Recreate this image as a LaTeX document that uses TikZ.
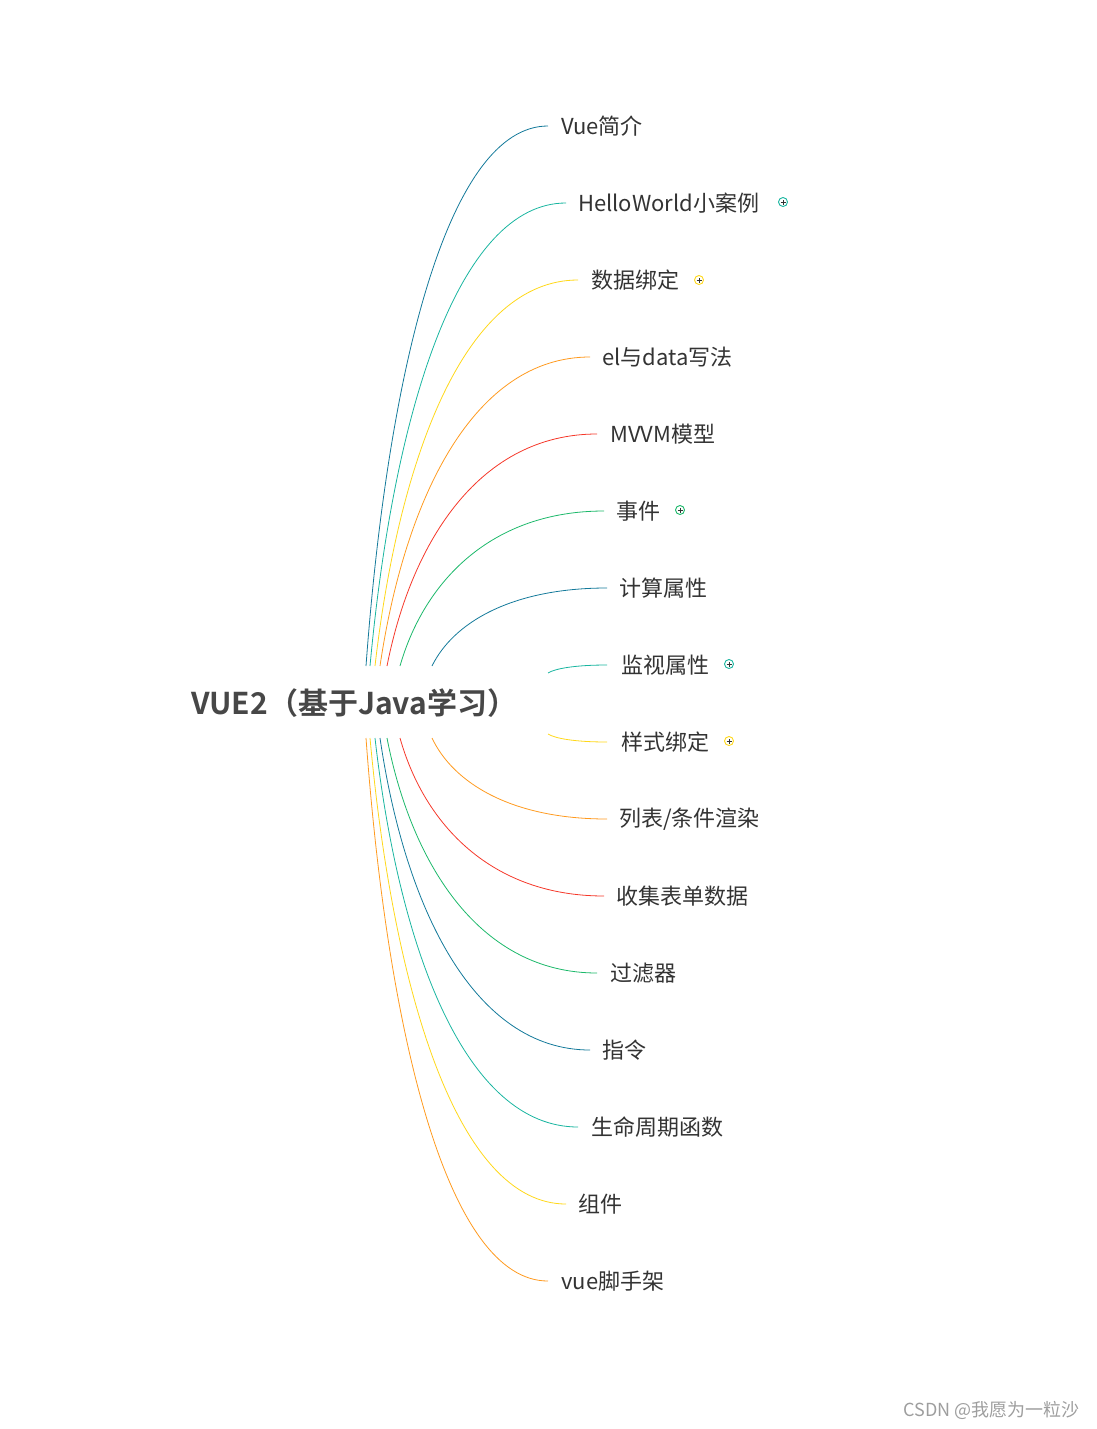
\documentclass[tikz,border=0pt]{standalone}
\usepackage{fontspec}
\setmainfont{Noto Sans CJK SC}
\newfontfamily\cjkb[BoldFont={Noto Sans CJK SC Bold}]{Noto Sans CJK SC}
\definecolor{cA}{HTML}{13799A}
\definecolor{cB}{HTML}{19B5A0}
\definecolor{cC}{HTML}{FFD81A}
\definecolor{cD}{HTML}{FF9A1F}
\definecolor{cE}{HTML}{F5382A}
\definecolor{cF}{HTML}{1CB86A}
\definecolor{txt}{HTML}{333333}
\tikzset{lbl/.style={anchor=west,inner sep=0pt,font=\fontsize{22}{25}\selectfont,text=txt},
 br/.style={line width=0.8pt},
 plusic/.style={circle,draw=#1,line width=0.9pt,minimum size=9pt,inner sep=0pt,
   path picture={\draw[txt,line width=0.7pt] ([xshift=-2.5pt]path picture bounding box.center)--([xshift=2.5pt]path picture bounding box.center) ([yshift=-2.5pt]path picture bounding box.center)--([yshift=2.5pt]path picture bounding box.center);}}}
\begin{document}
\begin{tikzpicture}[x=1pt,y=-1pt]
\useasboundingbox (0,0) rectangle (1096,1429);
\node[font=\cjkb\bfseries\fontsize{30}{33}\selectfont,text=black!72,anchor=west,inner sep=0pt] (root) at (191,703) {VUE2（基于Java学习）};
\foreach \i/\lab/\xs/\ys/\xe/\ye/\xt/\col in {
 1/Vue简介/366/666/548/126/561/cA,
 2/HelloWorld小案例/370/666/566/203/578/cB,
 3/数据绑定/375/666/578/280/591/cC,
 4/el与data写法/380/666/590/357/602/cD,
 5/MVVM模型/387/666/597/434/610/cE,
 6/事件/400/666/604/511/616/cF,
 7/计算属性/432/666/607/588/619/cA,
 8/监视属性/548/673/607/665/621/cB,
 9/样式绑定/548/734/607/742/621/cC,
 10/列表{/}条件渲染/432/738/607/819/619/cD,
 11/收集表单数据/400/738/604/896/616/cE,
 12/过滤器/387/738/597/973/610/cF,
 13/指令/380/738/590/1050/602/cA,
 14/生命周期函数/375/738/578/1127/591/cB,
 15/组件/370/738/566/1204/578/cC,
 16/vue脚手架/366/738/548/1281/561/cD}
{
 \coordinate (s\i) at (\xs,\ys);
 \coordinate (e\i) at (\xe,\ye);
 \node[lbl] (n\i) at (\xt,\ye) {\lab};
 \pgfmathsetmacro{\cxa}{\xs+0.12*(\xe-\xs)}
 \pgfmathsetmacro{\cya}{\ys+0.55*(\ye-\ys)}
 \pgfmathsetmacro{\cxb}{\xs+0.45*(\xe-\xs)}
 \draw[br,\col] (s\i) .. controls (\cxa,\cya) and (\cxb,\ye) .. (e\i);
}
\node[plusic=cB] (p2) at (783,202) {};
\node[plusic=cC] (p3) at (699,280) {};
\node[plusic=cF] (p6) at (680,510) {};
\node[plusic=cB] (p8) at (729,664) {};
\node[plusic=cC] (p9) at (729,741) {};
\node[anchor=east,inner sep=0pt,text=black!38,font=\fontsize{18}{20}\selectfont] (wm) at (1080,1410) {CSDN @我愿为一粒沙};
\end{tikzpicture}
\end{document}
